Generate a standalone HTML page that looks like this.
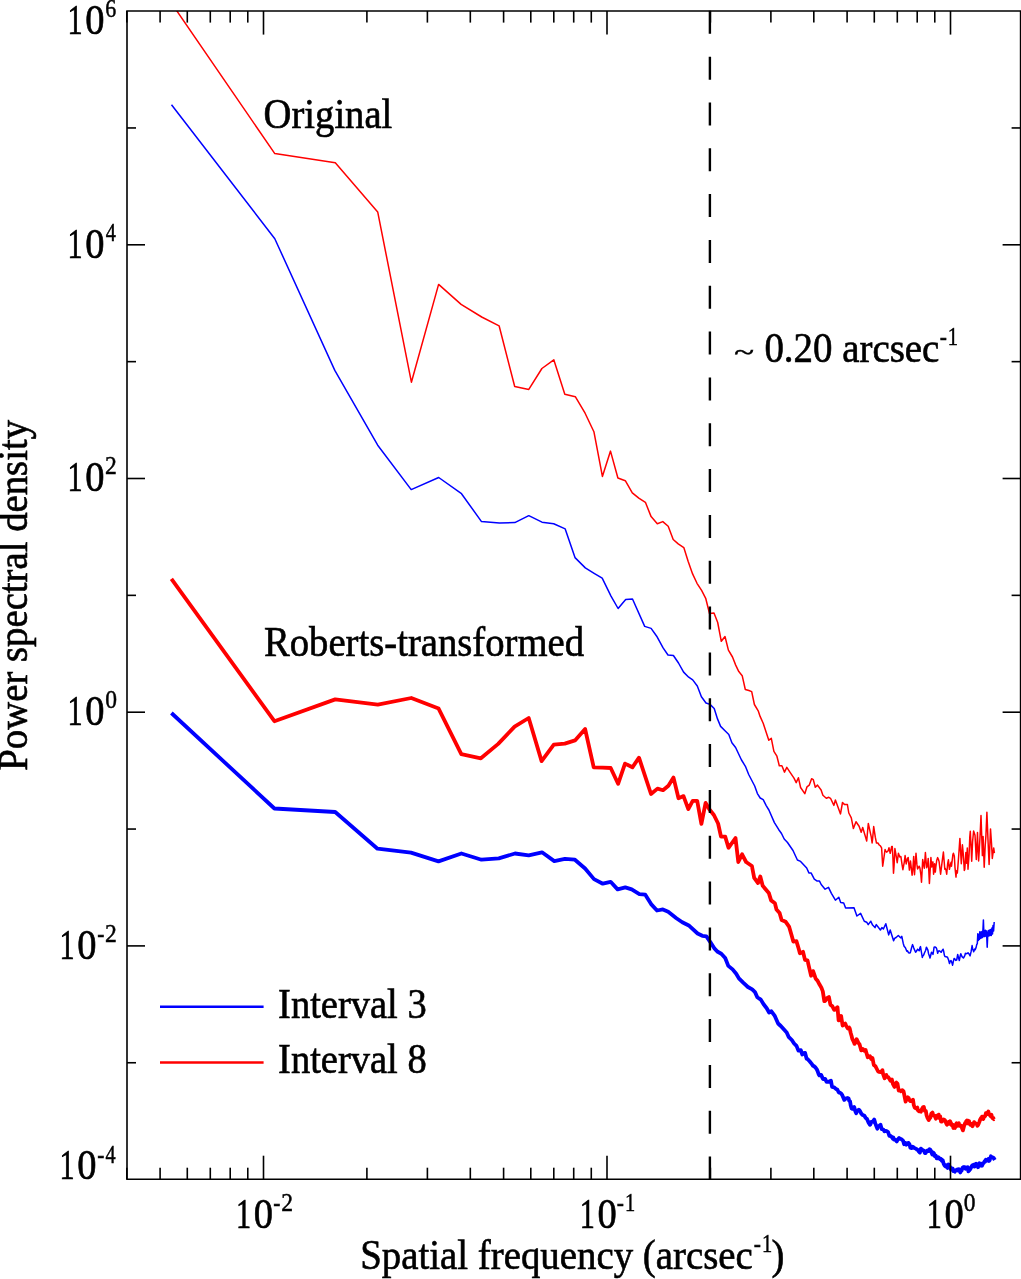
<!DOCTYPE html>
<html><head><meta charset="utf-8"><title>Power spectral density</title>
<style>html,body{margin:0;padding:0;background:#fff;overflow:hidden;}svg{display:block;}</style>
</head><body>
<svg width="1021" height="1279" viewBox="0 0 1021 1279"><defs><clipPath id="pc"><rect x="127" y="11" width="894" height="1169"/></clipPath></defs><rect width="100%" height="100%" fill="#fff"/><g clip-path="url(#pc)" fill="none" stroke-linejoin="round" stroke-linecap="butt"><polyline points="171.4,3.0 274.8,153.6 335.3,162.7 377.7,211.9 411.4,382.2 438.6,284.4 461.1,304.4 481.7,317.0 499.1,325.8 514.7,386.5 528.8,389.4 541.9,368.5 553.8,359.8 564.8,394.2 575.3,396.7 585.1,413.2 593.9,431.7 602.4,476.4 610.5,451.1 617.9,478.0 625.3,480.7 632.3,492.8 638.8,498.2 645.4,502.3 651.1,516.6 657.3,523.8 662.8,521.6 668.2,526.3 673.2,539.5 678.2,543.9 683.8,547.6 688.2,561.4 692.6,573.9 697.0,583.3 701.6,590.4 705.7,598.3 709.5,613.5 714.0,612.9 717.7,622.5 721.3,641.3 725.0,636.5 728.4,650.1 732.5,657.0 735.7,665.1 738.8,671.6 742.2,675.7 745.3,689.5 748.9,690.5 751.7,691.6 754.4,704.5 758.2,710.8 760.1,716.4 763.2,723.3 768.8,740.2 771.3,738.3 773.9,751.3 776.9,756.2 779.3,765.7 781.9,765.7 784.5,772.1 786.8,767.4 790.1,772.3 794.0,778.2 796.2,782.6 798.4,777.7 800.6,787.5 804.8,793.7 807.0,786.8 809.2,785.2 811.6,778.7 813.3,779.7 815.3,787.2 817.5,785.1 821.1,790.0 822.9,795.3 826.3,798.3 828.8,797.3 830.5,798.3 833.9,805.4 835.4,800.0 840.5,813.9 842.5,802.5 844.6,804.6 847.4,804.6 848.8,813.0 851.3,817.9 853.4,828.6 856.0,821.8 859.1,826.2 861.2,832.3 862.7,827.5 866.7,841.0 868.3,823.5 871.3,837.1 872.1,842.9 872.6,839.0 873.7,826.6 875.3,837.2 876.5,843.1 877.9,843.0 879.2,845.0 880.4,845.8 881.6,847.8 882.7,866.2 884.4,854.4 885.1,849.4 885.6,851.0 886.6,852.1 888.1,850.9 889.0,847.8 890.2,853.3 891.7,846.5 892.3,846.6 892.9,857.1 893.5,873.3 894.1,865.2 894.9,848.6 896.4,857.4 897.2,862.7 898.4,853.3 899.8,856.9 900.4,856.4 900.9,856.6 902.1,864.9 902.9,869.7 904.3,862.1 905.1,855.6 906.2,863.9 907.5,858.2 908.2,857.6 909.4,870.1 910.5,861.1 912.1,875.2 912.8,869.6 913.7,856.4 914.5,874.8 916.0,853.3 916.9,864.4 917.6,869.0 919.2,866.2 919.9,868.0 920.9,874.9 921.5,882.3 922.7,859.6 923.8,865.7 924.3,868.2 925.4,852.5 926.6,867.8 927.6,864.9 928.2,858.4 929.4,883.5 930.4,866.0 930.9,857.6 931.7,867.0 932.2,863.0 932.9,861.9 933.6,874.3 934.6,863.7 935.3,872.1 935.8,867.5 936.7,860.5 937.6,857.6 938.4,859.3 939.1,861.6 940.6,874.2 941.9,863.6 942.7,857.3 943.4,852.1 944.8,869.3 945.3,868.5 946.1,870.6 946.7,874.2 947.7,863.3 948.4,859.8 949.4,869.3 950.2,865.8 951.1,862.3 951.5,866.2 952.9,854.5 953.4,853.3 954.3,855.9 955.0,867.6 956.0,877.1 956.5,870.8 957.3,873.1 957.8,867.6 958.8,854.3 959.9,838.4 961.3,863.7 961.8,856.1 962.4,844.7 963.3,854.2 964.3,870.4 964.8,869.2 965.9,852.4 966.6,863.3 967.3,847.9 968.0,869.3 969.1,854.3 969.8,836.7 970.3,831.3 971.2,849.1 971.7,861.2 972.6,841.5 973.6,831.0 975.0,835.2 976.3,859.5 977.5,832.4 978.0,848.2 978.6,860.9 979.4,847.9 980.0,837.2 981.0,815.5 982.4,855.6 983.1,836.6 984.2,867.2 985.2,845.7 985.9,836.1 986.9,812.3 988.1,842.2 989.1,864.4 989.6,852.5 990.5,828.9 991.5,843.2 992.3,858.4 993.7,847.9 994.4,853.1" stroke="#f00" stroke-width="1.5"/><polyline points="171.5,104.7 274.8,238.7 334.8,370.4 377.7,445.2 411.2,489.6 438.7,477.5 461.5,493.7 481.5,521.6 499.4,523.0 514.8,522.6 528.8,515.7 542.0,522.2 553.7,523.8 565.2,528.9 575.0,557.6 585.3,567.9 594.1,573.3 602.2,578.1 611.0,596.1 618.1,608.5 625.7,599.6 632.5,599.0 644.7,626.4 651.1,628.4 656.7,636.2 663.1,647.9 668.0,655.0 673.4,655.5 678.5,663.0 683.6,672.1 688.7,677.2 692.7,679.9 697.3,686.0 701.4,696.7 706.0,703.0 710.0,704.4 714.2,708.5 717.5,718.9 720.6,726.4 725.0,730.8 728.8,734.5 731.9,742.7 735.6,747.5 741.5,760.0 745.4,766.3 748.7,774.5 754.7,786.0 757.4,793.6 760.2,798.0 763.2,799.6 766.2,805.6 768.9,810.0 774.4,822.6 778.8,829.7 781.5,833.5 784.2,839.0 787.5,842.5 793.0,850.5 797.4,860.0 800.6,861.4 806.7,868.0 808.9,872.9 811.2,873.1 814.3,879.1 817.2,881.1 819.5,881.1 821.2,884.5 825.1,889.2 828.5,887.4 831.4,893.3 835.4,900.2 838.8,897.2 840.7,902.6 843.7,903.1 845.6,908.0 854.0,907.8 856.9,916.0 860.6,913.4 864.3,921.2 866.7,922.2 868.2,924.6 870.8,921.2 872.6,925.1 875.0,927.6 876.3,924.6 880.4,930.0 881.9,927.6 883.4,929.0 885.8,923.7 888.7,934.9 890.2,930.0 893.6,940.8 894.6,938.4 896.1,937.5 898.3,935.5 900.3,937.5 900.9,937.9 901.8,936.3 903.2,943.2 904.1,946.3 905.4,947.8 906.8,951.3 907.5,950.8 908.6,952.8 909.7,953.0 910.2,952.8 910.7,951.3 911.8,946.9 912.5,944.6 913.8,948.1 914.9,950.7 915.6,952.3 916.9,950.5 917.6,949.2 919.2,950.8 919.9,947.9 920.5,946.6 921.8,954.5 922.3,957.4 922.8,956.1 923.8,954.8 924.3,953.3 925.7,950.2 926.4,947.2 927.9,950.2 928.5,953.4 929.4,956.0 930.0,958.0 931.5,952.3 932.2,953.2 933.0,954.4 934.1,947.2 934.9,946.9 936.1,947.7 936.7,948.8 937.7,953.3 938.4,951.1 939.2,950.8 940.2,951.4 941.3,952.3 941.9,950.9 943.1,949.2 943.6,950.9 944.4,955.3 944.9,956.4 946.1,956.7 946.9,956.9 947.4,956.9 948.6,960.0 949.5,963.6 950.2,961.3 951.0,960.5 951.8,962.4 952.6,965.2 953.4,961.1 954.1,958.5 954.9,959.0 955.7,960.4 956.7,960.0 957.7,954.4 958.8,958.9 959.3,960.5 960.3,955.4 960.8,953.8 961.8,956.2 962.5,957.2 963.4,958.0 964.0,957.0 964.8,955.6 965.4,953.3 966.2,953.7 966.9,953.6 968.0,952.8 969.1,954.1 970.1,955.9 971.2,951.2 972.1,945.6 972.6,948.4 973.7,951.8 974.7,948.9 975.3,949.6 976.0,947.8 976.7,944.7 977.3,943.6 977.8,933.8 978.3,940.5 978.8,934.5 979.3,939.5 979.8,931.7 980.4,938.5 981.0,932.0 981.4,937.9 982.0,931.5 982.6,937.5 983.4,919.9 984.0,936.5 984.5,930.5 985.0,936.5 985.5,930.2 986.0,936.0 986.5,931.0 987.2,947.2 987.7,935.9 988.3,930.5 988.9,936.0 989.5,930.0 990.1,935.5 990.7,929.5 991.3,935.5 991.9,928.0 992.5,934.0 993.0,925.5 993.6,931.0 994.2,922.0" stroke="#00f" stroke-width="1.5"/><polyline points="171.4,578.9 274.4,721.2 335.2,699.4 377.8,704.7 411.3,698.0 438.6,708.6 461.3,754.1 480.9,758.3 498.2,743.9 514.6,726.6 528.7,718.0 541.6,761.1 553.8,744.7 564.8,743.6 575.0,740.4 585.1,729.0 593.7,767.3 602.6,767.7 610.7,768.0 618.1,783.8 625.0,763.6 632.4,767.3 639.0,757.7 651.0,794.0 657.5,788.6 663.0,790.2 668.4,785.8 673.5,777.6 678.5,798.2 683.5,796.1 688.3,809.1 692.7,800.9 697.2,800.9 701.4,823.9 705.6,802.9 709.5,809.5 713.9,815.0 718.1,823.5 721.0,836.6 725.2,836.6 728.5,847.8 735.5,838.0 738.3,862.0 742.1,854.3 746.1,862.0 751.9,866.0 754.2,877.9 758.0,883.0 760.3,876.5 762.7,885.8 768.8,892.9 771.1,900.4 774.9,903.2 776.5,909.5 779.6,913.0 781.6,920.0 785.7,921.8 789.2,926.9 791.8,936.0 793.3,941.6 794.1,941.5 796.4,941.1 798.7,948.8 799.9,953.3 800.9,953.0 803.0,951.8 805.0,959.9 807.5,960.4 809.4,968.6 811.1,975.7 813.1,971.1 815.7,978.7 817.5,980.6 819.7,984.8 821.3,987.4 822.8,991.4 824.3,1001.1 825.1,1001.0 827.0,998.2 828.9,997.0 830.4,1004.7 832.4,1006.3 834.2,1009.9 835.0,1009.7 835.9,1008.7 837.5,1007.2 838.6,1020.4 839.3,1019.9 841.1,1015.9 842.6,1025.5 844.3,1024.1 845.2,1023.5 846.0,1025.3 847.7,1028.4 849.2,1027.6 849.7,1028.5 850.7,1033.0 851.6,1036.0 852.3,1038.9 853.9,1042.2 854.5,1043.9 855.4,1042.6 856.6,1039.2 858.4,1042.8 859.6,1044.4 861.3,1050.4 862.8,1048.9 864.3,1050.8 865.6,1049.9 867.1,1055.2 867.8,1057.3 868.5,1056.8 869.9,1056.2 871.3,1059.1 872.5,1058.1 873.8,1065.0 875.5,1066.3 876.6,1068.5 878.1,1071.5 879.2,1071.9 880.5,1072.1 881.8,1071.1 882.4,1070.2 883.1,1074.2 884.6,1078.3 885.6,1075.9 886.3,1074.9 886.8,1076.7 888.1,1077.0 889.3,1078.8 890.5,1080.8 891.9,1079.6 892.9,1083.8 894.5,1086.9 895.2,1084.2 896.4,1082.6 897.0,1083.1 897.5,1083.8 898.7,1090.5 899.2,1090.4 899.8,1090.3 900.9,1091.2 902.1,1090.1 903.5,1091.2 904.3,1095.0 905.6,1101.6 906.4,1099.5 907.8,1097.3 908.6,1097.9 909.7,1100.4 910.4,1101.1 911.8,1100.8 913.0,1099.8 913.8,1105.2 914.7,1107.6 915.9,1108.3 917.3,1107.6 917.9,1110.2 918.9,1111.3 919.7,1111.0 920.9,1111.7 921.8,1109.3 923.0,1107.3 923.8,1106.9 924.7,1110.9 925.8,1110.8 926.6,1115.3 927.6,1118.1 928.7,1120.0 929.4,1118.8 930.4,1117.6 931.3,1113.7 932.5,1112.5 933.1,1115.0 934.0,1115.6 934.9,1116.2 935.8,1118.7 936.7,1115.7 937.6,1117.6 938.7,1114.6 939.3,1118.0 940.2,1116.5 941.0,1121.4 941.6,1121.6 942.7,1120.8 943.6,1119.5 944.4,1119.8 945.0,1120.4 946.1,1123.1 946.9,1124.7 947.5,1124.1 948.6,1121.9 949.4,1123.9 950.2,1121.3 950.8,1122.9 951.8,1125.1 952.6,1124.7 953.4,1128.0 954.1,1127.5 954.9,1128.0 955.7,1124.8 956.6,1123.3 957.3,1125.8 958.0,1123.6 958.8,1123.2 959.5,1125.9 960.0,1125.8 961.1,1125.6 961.8,1127.5 962.9,1130.4 964.0,1126.2 965.0,1123.3 965.5,1123.5 966.2,1121.3 966.9,1120.5 967.7,1123.4 968.4,1120.8 969.1,1121.2 969.8,1124.1 970.5,1124.8 971.2,1123.8 971.9,1125.2 972.5,1126.2 973.3,1124.3 974.1,1122.1 974.7,1123.0 975.3,1123.2 976.0,1123.5 976.7,1124.1 977.4,1125.8 978.3,1124.6 979.4,1121.9 980.0,1119.9 980.8,1118.3 981.4,1118.9 982.0,1116.7 982.7,1116.7 983.3,1119.1 983.9,1116.9 984.5,1116.6 985.2,1116.0 985.9,1113.2 986.5,1114.1 987.1,1114.1 987.9,1112.9 988.4,1111.5 989.0,1114.5 989.9,1115.0 990.9,1116.5 991.5,1114.8 992.0,1117.1 992.7,1118.2 993.3,1118.0 993.9,1119.3 994.5,1119.1" stroke="#f00" stroke-width="3.8"/><polyline points="171.4,713.0 274.4,808.5 335.2,812.0 377.5,848.7 411.0,852.6 438.5,861.4 461.4,853.5 481.5,859.7 498.8,858.4 515.0,853.5 528.7,855.3 542.0,852.3 554.3,861.1 564.9,858.8 574.9,859.7 585.1,868.5 594.0,879.1 602.8,883.7 610.6,881.8 617.6,889.4 625.3,887.4 631.7,889.4 639.4,894.1 645.3,894.7 651.1,904.1 657.0,910.5 662.9,909.4 668.2,911.7 676.4,918.2 682.3,922.3 689.3,925.8 697.6,933.5 702.3,935.8 706.4,936.4 710.5,942.3 714.6,948.7 717.7,951.8 721.3,953.7 725.2,958.0 728.3,965.9 732.6,969.4 736.2,973.7 738.9,978.4 743.2,982.7 747.9,987.0 752.2,989.4 755.0,992.1 757.3,997.2 760.8,999.6 763.6,1004.3 766.7,1008.2 769.1,1012.5 771.4,1011.3 774.6,1015.6 778.1,1023.5 780.8,1026.0 783.1,1028.6 786.7,1032.5 788.6,1036.8 791.8,1040.0 794.1,1043.5 796.5,1045.9 798.4,1050.6 800.8,1050.2 802.3,1054.5 803.0,1053.7 805.1,1052.9 806.6,1058.8 807.3,1058.8 809.8,1061.5 811.5,1063.6 812.9,1065.8 813.5,1065.8 815.5,1067.5 816.8,1069.4 817.5,1070.9 818.8,1074.5 819.4,1075.4 821.1,1074.9 822.7,1078.4 823.2,1079.1 825.1,1078.8 826.6,1081.9 828.8,1081.8 830.9,1080.7 832.1,1087.0 834.2,1087.4 835.9,1088.9 837.2,1089.4 838.8,1092.5 839.3,1092.4 841.0,1093.4 842.3,1095.2 844.3,1099.9 846.0,1098.3 847.6,1098.0 848.6,1098.4 849.2,1100.7 850.1,1101.5 850.7,1105.4 851.6,1108.4 852.3,1108.8 854.2,1107.0 855.4,1111.5 856.2,1113.2 856.9,1111.4 858.8,1109.7 859.9,1110.8 861.3,1113.6 862.8,1115.1 864.4,1115.8 865.7,1118.0 866.9,1118.8 868.5,1122.5 869.9,1124.8 870.4,1124.4 871.3,1122.0 872.6,1121.9 874.2,1119.6 875.3,1123.4 876.6,1126.8 877.3,1128.7 877.9,1126.7 879.2,1125.9 879.8,1125.2 880.5,1124.7 881.8,1129.2 883.3,1129.5 884.4,1131.3 885.6,1130.8 887.0,1131.3 888.1,1132.0 889.3,1135.8 890.6,1136.0 891.7,1136.9 892.9,1138.7 893.4,1137.5 894.1,1139.6 895.2,1139.6 896.8,1141.4 897.5,1140.0 899.1,1138.0 899.8,1138.8 900.9,1138.8 901.9,1139.7 903.2,1140.9 904.1,1144.2 905.4,1143.0 906.4,1144.7 907.5,1143.1 908.6,1143.0 909.7,1144.8 910.3,1147.6 911.8,1148.1 912.8,1146.7 913.7,1147.6 914.9,1148.3 916.0,1148.7 916.9,1149.5 917.9,1150.0 918.8,1151.5 919.9,1152.6 920.9,1148.7 921.6,1149.3 922.8,1150.3 923.8,1150.6 925.0,1153.2 925.7,1153.1 926.6,1150.9 927.6,1150.4 928.5,1151.1 929.5,1149.3 930.4,1149.7 931.3,1151.9 932.2,1154.5 933.1,1152.4 934.0,1153.5 934.6,1156.0 935.8,1155.6 936.7,1158.3 937.6,1158.3 938.4,1157.3 939.3,1158.2 940.2,1159.4 941.0,1159.0 941.9,1160.9 942.7,1160.2 943.6,1163.6 944.4,1165.3 945.3,1166.4 945.8,1165.1 946.9,1166.6 947.7,1167.9 948.6,1164.5 949.4,1166.0 950.3,1167.3 951.0,1169.6 951.8,1169.4 952.6,1168.5 953.4,1171.1 954.2,1170.3 954.9,1171.7 955.4,1170.7 956.5,1169.9 957.3,1169.5 958.0,1170.5 958.8,1169.2 959.5,1170.2 960.3,1172.5 961.1,1170.0 961.6,1170.7 962.5,1167.8 963.3,1167.2 964.0,1167.0 965.0,1167.3 965.5,1168.7 966.2,1167.5 966.9,1167.7 967.7,1167.3 968.4,1171.3 969.5,1170.1 970.5,1168.8 971.2,1167.2 971.9,1165.9 972.6,1165.2 973.4,1166.2 974.0,1164.8 974.7,1166.6 975.3,1164.4 976.0,1163.8 976.7,1165.5 977.4,1164.3 978.0,1167.2 978.5,1165.1 979.4,1163.3 980.0,1164.6 980.7,1165.4 981.4,1163.7 982.0,1165.7 983.0,1163.4 983.9,1162.7 984.6,1161.3 985.2,1161.6 985.9,1159.7 986.5,1160.8 987.5,1160.5 988.4,1158.9 989.0,1161.0 989.6,1160.3 990.2,1158.5 990.9,1156.2 991.4,1157.7 992.1,1157.2 992.7,1157.5 993.3,1157.8 993.9,1158.3 994.8,1160.0" stroke="#00f" stroke-width="3.8"/></g><path d="M709.9,10.80V33.80M709.9,56.63V79.63M709.9,102.46V125.46M709.9,148.29V171.29M709.9,194.12V217.12M709.9,239.95V262.95M709.9,285.78V308.78M709.9,331.61V354.61M709.9,377.44V400.44M709.9,423.27V446.27M709.9,469.10V492.10M709.9,514.93V537.93M709.9,560.76V583.76M709.9,606.59V629.59M709.9,652.42V675.42M709.9,698.25V721.25M709.9,744.08V767.08M709.9,789.91V812.91M709.9,835.74V858.74M709.9,881.57V904.57M709.9,927.40V950.40M709.9,973.23V996.23M709.9,1019.06V1042.06M709.9,1064.89V1087.89M709.9,1110.72V1133.72M709.9,1156.55V1179.30" stroke="#000" stroke-width="2.4" fill="none"/><g><line x1="126.81" y1="1179.30" x2="126.81" y2="1167.70" stroke="#000" stroke-width="1.6"/><line x1="126.81" y1="11.00" x2="126.81" y2="22.60" stroke="#000" stroke-width="1.6"/><line x1="160.10" y1="1179.30" x2="160.10" y2="1167.70" stroke="#000" stroke-width="1.6"/><line x1="160.10" y1="11.00" x2="160.10" y2="22.60" stroke="#000" stroke-width="1.6"/><line x1="187.29" y1="1179.30" x2="187.29" y2="1167.70" stroke="#000" stroke-width="1.6"/><line x1="187.29" y1="11.00" x2="187.29" y2="22.60" stroke="#000" stroke-width="1.6"/><line x1="210.29" y1="1179.30" x2="210.29" y2="1167.70" stroke="#000" stroke-width="1.6"/><line x1="210.29" y1="11.00" x2="210.29" y2="22.60" stroke="#000" stroke-width="1.6"/><line x1="230.21" y1="1179.30" x2="230.21" y2="1167.70" stroke="#000" stroke-width="1.6"/><line x1="230.21" y1="11.00" x2="230.21" y2="22.60" stroke="#000" stroke-width="1.6"/><line x1="247.78" y1="1179.30" x2="247.78" y2="1167.70" stroke="#000" stroke-width="1.6"/><line x1="247.78" y1="11.00" x2="247.78" y2="22.60" stroke="#000" stroke-width="1.6"/><line x1="263.50" y1="1179.30" x2="263.50" y2="1155.70" stroke="#000" stroke-width="1.6"/><line x1="263.50" y1="11.00" x2="263.50" y2="34.60" stroke="#000" stroke-width="1.6"/><line x1="366.90" y1="1179.30" x2="366.90" y2="1167.70" stroke="#000" stroke-width="1.6"/><line x1="366.90" y1="11.00" x2="366.90" y2="22.60" stroke="#000" stroke-width="1.6"/><line x1="427.39" y1="1179.30" x2="427.39" y2="1167.70" stroke="#000" stroke-width="1.6"/><line x1="427.39" y1="11.00" x2="427.39" y2="22.60" stroke="#000" stroke-width="1.6"/><line x1="470.31" y1="1179.30" x2="470.31" y2="1167.70" stroke="#000" stroke-width="1.6"/><line x1="470.31" y1="11.00" x2="470.31" y2="22.60" stroke="#000" stroke-width="1.6"/><line x1="503.60" y1="1179.30" x2="503.60" y2="1167.70" stroke="#000" stroke-width="1.6"/><line x1="503.60" y1="11.00" x2="503.60" y2="22.60" stroke="#000" stroke-width="1.6"/><line x1="530.79" y1="1179.30" x2="530.79" y2="1167.70" stroke="#000" stroke-width="1.6"/><line x1="530.79" y1="11.00" x2="530.79" y2="22.60" stroke="#000" stroke-width="1.6"/><line x1="553.79" y1="1179.30" x2="553.79" y2="1167.70" stroke="#000" stroke-width="1.6"/><line x1="553.79" y1="11.00" x2="553.79" y2="22.60" stroke="#000" stroke-width="1.6"/><line x1="573.71" y1="1179.30" x2="573.71" y2="1167.70" stroke="#000" stroke-width="1.6"/><line x1="573.71" y1="11.00" x2="573.71" y2="22.60" stroke="#000" stroke-width="1.6"/><line x1="591.28" y1="1179.30" x2="591.28" y2="1167.70" stroke="#000" stroke-width="1.6"/><line x1="591.28" y1="11.00" x2="591.28" y2="22.60" stroke="#000" stroke-width="1.6"/><line x1="607.00" y1="1179.30" x2="607.00" y2="1155.70" stroke="#000" stroke-width="1.6"/><line x1="607.00" y1="11.00" x2="607.00" y2="34.60" stroke="#000" stroke-width="1.6"/><line x1="710.40" y1="1179.30" x2="710.40" y2="1167.70" stroke="#000" stroke-width="1.6"/><line x1="710.40" y1="11.00" x2="710.40" y2="22.60" stroke="#000" stroke-width="1.6"/><line x1="770.89" y1="1179.30" x2="770.89" y2="1167.70" stroke="#000" stroke-width="1.6"/><line x1="770.89" y1="11.00" x2="770.89" y2="22.60" stroke="#000" stroke-width="1.6"/><line x1="813.81" y1="1179.30" x2="813.81" y2="1167.70" stroke="#000" stroke-width="1.6"/><line x1="813.81" y1="11.00" x2="813.81" y2="22.60" stroke="#000" stroke-width="1.6"/><line x1="847.10" y1="1179.30" x2="847.10" y2="1167.70" stroke="#000" stroke-width="1.6"/><line x1="847.10" y1="11.00" x2="847.10" y2="22.60" stroke="#000" stroke-width="1.6"/><line x1="874.29" y1="1179.30" x2="874.29" y2="1167.70" stroke="#000" stroke-width="1.6"/><line x1="874.29" y1="11.00" x2="874.29" y2="22.60" stroke="#000" stroke-width="1.6"/><line x1="897.29" y1="1179.30" x2="897.29" y2="1167.70" stroke="#000" stroke-width="1.6"/><line x1="897.29" y1="11.00" x2="897.29" y2="22.60" stroke="#000" stroke-width="1.6"/><line x1="917.21" y1="1179.30" x2="917.21" y2="1167.70" stroke="#000" stroke-width="1.6"/><line x1="917.21" y1="11.00" x2="917.21" y2="22.60" stroke="#000" stroke-width="1.6"/><line x1="934.78" y1="1179.30" x2="934.78" y2="1167.70" stroke="#000" stroke-width="1.6"/><line x1="934.78" y1="11.00" x2="934.78" y2="22.60" stroke="#000" stroke-width="1.6"/><line x1="950.50" y1="1179.30" x2="950.50" y2="1155.70" stroke="#000" stroke-width="1.6"/><line x1="950.50" y1="11.00" x2="950.50" y2="34.60" stroke="#000" stroke-width="1.6"/><line x1="127.00" y1="1062.75" x2="136.00" y2="1062.75" stroke="#000" stroke-width="1.6"/><line x1="1020.60" y1="1062.75" x2="1011.60" y2="1062.75" stroke="#000" stroke-width="1.6"/><line x1="127.00" y1="945.90" x2="145.00" y2="945.90" stroke="#000" stroke-width="1.6"/><line x1="1020.60" y1="945.90" x2="1002.60" y2="945.90" stroke="#000" stroke-width="1.6"/><line x1="127.00" y1="829.05" x2="136.00" y2="829.05" stroke="#000" stroke-width="1.6"/><line x1="1020.60" y1="829.05" x2="1011.60" y2="829.05" stroke="#000" stroke-width="1.6"/><line x1="127.00" y1="712.20" x2="145.00" y2="712.20" stroke="#000" stroke-width="1.6"/><line x1="1020.60" y1="712.20" x2="1002.60" y2="712.20" stroke="#000" stroke-width="1.6"/><line x1="127.00" y1="595.35" x2="136.00" y2="595.35" stroke="#000" stroke-width="1.6"/><line x1="1020.60" y1="595.35" x2="1011.60" y2="595.35" stroke="#000" stroke-width="1.6"/><line x1="127.00" y1="478.50" x2="145.00" y2="478.50" stroke="#000" stroke-width="1.6"/><line x1="1020.60" y1="478.50" x2="1002.60" y2="478.50" stroke="#000" stroke-width="1.6"/><line x1="127.00" y1="361.65" x2="136.00" y2="361.65" stroke="#000" stroke-width="1.6"/><line x1="1020.60" y1="361.65" x2="1011.60" y2="361.65" stroke="#000" stroke-width="1.6"/><line x1="127.00" y1="244.80" x2="145.00" y2="244.80" stroke="#000" stroke-width="1.6"/><line x1="1020.60" y1="244.80" x2="1002.60" y2="244.80" stroke="#000" stroke-width="1.6"/><line x1="127.00" y1="127.95" x2="136.00" y2="127.95" stroke="#000" stroke-width="1.6"/><line x1="1020.60" y1="127.95" x2="1011.60" y2="127.95" stroke="#000" stroke-width="1.6"/></g><path d="M127.0,11.0H1020.6V1179.3H127.0Z" fill="none" stroke="#000" stroke-width="1.6"/><line x1="160" y1="1006.8" x2="263.6" y2="1006.8" stroke="#00f" stroke-width="2.4"/><line x1="160" y1="1062.5" x2="263.6" y2="1062.5" stroke="#f00" stroke-width="2.4"/><g font-family="'Liberation Serif', serif" fill="#000" stroke="#000"><text transform="translate(263.62,128.10) scale(0.9304,1.0)" font-size="41.5" stroke-width="0.622">Original</text><text transform="translate(263.88,656.20) scale(0.9328,1.0)" font-size="41.5" stroke-width="0.621">Roberts-transformed</text><text transform="translate(278.11,1018.00) scale(0.9281,1.0)" font-size="41.5" stroke-width="0.623">Interval 3</text><text transform="translate(278.11,1073.40) scale(0.9278,1.0)" font-size="41.5" stroke-width="0.623">Interval 8</text><text transform="translate(734.18,359.70) scale(0.8780,0.6)" font-size="41.5" stroke-width="0.827">~</text><text transform="translate(764.42,361.70) scale(0.9376,1.0)" font-size="41.5" stroke-width="0.620">0.20 arcsec</text><text transform="translate(939.73,345.47) scale(0.8371,1.0)" font-size="25.6" stroke-width="0.492">-</text><text transform="translate(947.63,345.47) scale(0.7957,1.0)" font-size="25.6" stroke-width="0.504">1</text><text transform="translate(360.20,1269.40) scale(0.9367,1.0)" font-size="41.5" stroke-width="0.620">Spatial frequency (arcsec</text><text transform="translate(753.73,1252.38) scale(0.8371,1.0)" font-size="25.6" stroke-width="0.492">-</text><text transform="translate(761.93,1252.38) scale(0.7957,1.0)" font-size="25.6" stroke-width="0.504">1</text><text transform="translate(771.46,1269.40) scale(0.9350,1.0)" font-size="41.5" stroke-width="0.621">)</text><text transform="translate(27.40,770.72) rotate(-90) scale(0.9340,1)" font-size="41.5" stroke-width="0.621">Power spectral density</text><text transform="translate(67.54,33.80) scale(0.7277,1.0)" font-size="41.5" stroke-width="0.703">1</text><text transform="translate(85.34,33.80) scale(0.9285,1.0)" font-size="41.5" stroke-width="0.623">0</text><text transform="translate(105.18,16.97) scale(0.8574,1.0)" font-size="25.6" stroke-width="0.486">6</text><text transform="translate(67.54,257.90) scale(0.7277,1.0)" font-size="41.5" stroke-width="0.703">1</text><text transform="translate(85.34,257.90) scale(0.9285,1.0)" font-size="41.5" stroke-width="0.623">0</text><text transform="translate(105.72,240.78) scale(0.7888,1.0)" font-size="25.6" stroke-width="0.507">4</text><text transform="translate(67.54,491.30) scale(0.7277,1.0)" font-size="41.5" stroke-width="0.703">1</text><text transform="translate(85.34,491.30) scale(0.9285,1.0)" font-size="41.5" stroke-width="0.623">0</text><text transform="translate(105.09,474.38) scale(0.9229,1.0)" font-size="25.6" stroke-width="0.468">2</text><text transform="translate(67.54,725.00) scale(0.7277,1.0)" font-size="41.5" stroke-width="0.703">1</text><text transform="translate(85.34,725.00) scale(0.9285,1.0)" font-size="41.5" stroke-width="0.623">0</text><text transform="translate(105.23,708.48) scale(0.9188,1.0)" font-size="25.6" stroke-width="0.469">0</text><text transform="translate(59.44,958.50) scale(0.7277,1.0)" font-size="41.5" stroke-width="0.703">1</text><text transform="translate(77.24,958.50) scale(0.9285,1.0)" font-size="41.5" stroke-width="0.623">0</text><text transform="translate(97.33,941.67) scale(0.8371,1.0)" font-size="25.6" stroke-width="0.492">-</text><text transform="translate(104.99,941.67) scale(0.9229,1.0)" font-size="25.6" stroke-width="0.468">2</text><text transform="translate(59.44,1179.40) scale(0.7277,1.0)" font-size="41.5" stroke-width="0.703">1</text><text transform="translate(77.24,1179.40) scale(0.9285,1.0)" font-size="41.5" stroke-width="0.623">0</text><text transform="translate(97.33,1162.58) scale(0.8371,1.0)" font-size="25.6" stroke-width="0.492">-</text><text transform="translate(105.62,1162.58) scale(0.7888,1.0)" font-size="25.6" stroke-width="0.507">4</text><text transform="translate(236.04,1227.60) scale(0.7277,1.0)" font-size="41.5" stroke-width="0.703">1</text><text transform="translate(253.84,1227.60) scale(0.9285,1.0)" font-size="41.5" stroke-width="0.623">0</text><text transform="translate(273.33,1210.68) scale(0.8371,1.0)" font-size="25.6" stroke-width="0.492">-</text><text transform="translate(281.29,1210.68) scale(0.9229,1.0)" font-size="25.6" stroke-width="0.468">2</text><text transform="translate(579.64,1227.60) scale(0.7277,1.0)" font-size="41.5" stroke-width="0.703">1</text><text transform="translate(597.44,1227.60) scale(0.9285,1.0)" font-size="41.5" stroke-width="0.623">0</text><text transform="translate(616.73,1210.68) scale(0.8371,1.0)" font-size="25.6" stroke-width="0.492">-</text><text transform="translate(624.93,1210.68) scale(0.7957,1.0)" font-size="25.6" stroke-width="0.504">1</text><text transform="translate(926.74,1227.60) scale(0.7277,1.0)" font-size="41.5" stroke-width="0.703">1</text><text transform="translate(944.54,1227.60) scale(0.9285,1.0)" font-size="41.5" stroke-width="0.623">0</text><text transform="translate(963.83,1210.68) scale(0.9188,1.0)" font-size="25.6" stroke-width="0.469">0</text></g></svg>
</body></html>
